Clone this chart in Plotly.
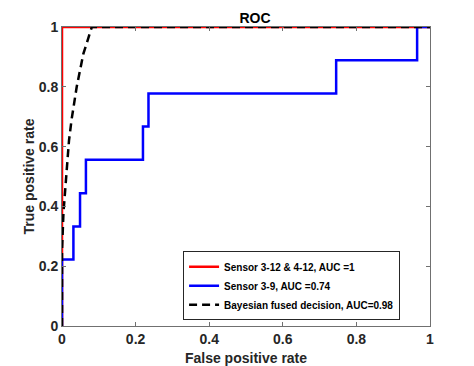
import plotly.graph_objects as go

# Data
red_fpr = [0, 0, 1]
red_tpr = [0, 1, 1]

blue_fpr = [0, 0, 0.031, 0.031, 0.049, 0.049, 0.065, 0.065, 0.220, 0.220, 0.235, 0.235, 0.745, 0.745, 0.965, 0.965, 1.0]
blue_tpr = [0, 0.222, 0.222, 0.333, 0.333, 0.444, 0.444, 0.556, 0.556, 0.667, 0.667, 0.778, 0.778, 0.889, 0.889, 1.0, 1.0]

bayes_fpr = [0, 0, 0.004, 0.011, 0.019, 0.026, 0.040, 0.058, 0.081, 1.0]
bayes_tpr = [0, 0.25, 0.38, 0.49, 0.62, 0.69, 0.80, 0.91, 1.0, 1.0]

names = ["Sensor 3-12 & 4-12, AUC =1", "Sensor 3-9, AUC =0.74", "Bayesian fused decision, AUC=0.98"]
ticks = [0, 0.2, 0.4, 0.6, 0.8, 1]
tick_text = ["0", "0.2", "0.4", "0.6", "0.8", "1"]

FONT = "Liberation Sans, Arial, sans-serif"

fig = go.Figure()
fig.add_trace(go.Scatter(x=red_fpr, y=red_tpr, mode="lines", name=names[0],
                         line=dict(color="#ff0000", width=2.5), cliponaxis=False))
fig.add_trace(go.Scatter(x=blue_fpr, y=blue_tpr, mode="lines", name=names[1],
                         line=dict(color="#0000ff", width=2.5), cliponaxis=False))
fig.add_trace(go.Scatter(x=bayes_fpr, y=bayes_tpr, mode="lines", name=names[2],
                         line=dict(color="#000000", width=2.5, dash="8px,5px"), cliponaxis=False))

axis_common = dict(range=[0, 1], tickvals=ticks, ticktext=tick_text, showgrid=False, zeroline=False,
                   showline=True, linecolor="#707070", linewidth=1, mirror="ticks",
                   ticks="inside", ticklen=4, tickcolor="#707070", automargin=False,
                   tickfont=dict(family=FONT, size=14, color="#262626", weight="bold"))

# The page body adds an 8px offset; the figure is sized so that the plot area
# lands at the reference's pixel position.
fig.update_layout(
    width=466, height=358,
    margin=dict(l=54, r=44, t=19, b=40, autoexpand=False),
    paper_bgcolor="white", plot_bgcolor="white",
    title=dict(text="ROC", x=0.53, xanchor="center", y=0.973, yanchor="middle",
               font=dict(family=FONT, size=14, color="#000000", weight="bold")),
    xaxis=dict(**axis_common,
               title=dict(text="False positive rate", standoff=7,
                          font=dict(family=FONT, size=14, color="#262626", weight="bold"))),
    yaxis=dict(**axis_common,
               title=dict(text="True positive rate", standoff=0,
                          font=dict(family=FONT, size=14, color="#262626", weight="bold"))),
    legend=dict(x=0.329, y=0.135, xanchor="left", yanchor="middle", traceorder="normal",
                bgcolor="white", bordercolor="#262626", borderwidth=1,
                font=dict(family=FONT, size=10, color="#000000", weight="bold"),
                tracegroupgap=0, itemwidth=30),
    showlegend=True,
)

fig.write_html("out.html")
